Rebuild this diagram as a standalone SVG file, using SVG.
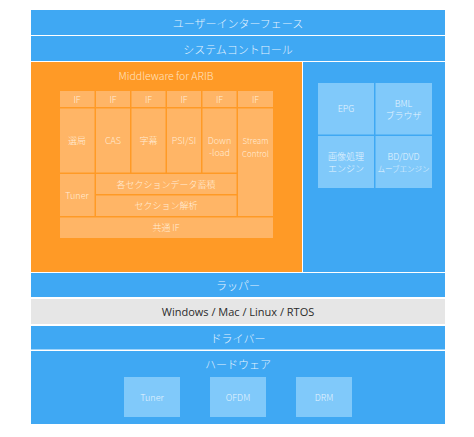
<svg xmlns="http://www.w3.org/2000/svg" width="474" height="437" viewBox="0 0 474 437">
<style>
.bar{fill:#3FA8F3}
.bt{font-family:"Noto Sans CJK JP","Noto Sans",sans-serif;font-weight:300;font-size:11px;fill:#E3F2FE;text-anchor:middle;dominant-baseline:central}
.or{fill:#FF9A26}
.cell{fill:#FFB566}
.ct{font-family:"Noto Sans CJK JP","Noto Sans",sans-serif;font-weight:300;font-size:9px;fill:#FFECD6;text-anchor:middle;dominant-baseline:central}
.lb{fill:#80C9FA}
.lt{font-family:"Noto Sans CJK JP","Noto Sans",sans-serif;font-weight:300;font-size:9px;fill:#E6F4FE;text-anchor:middle;dominant-baseline:central}
</style>
<rect width="474" height="437" fill="#FFFFFF"/>
<g id="ui"><rect class="bar" x="31" y="10" width="414" height="25"/><text class="bt" x="238" y="22.5">ユーザーインターフェース</text></g>
<g id="syscontrol"><rect class="bar" x="31" y="36" width="414" height="25"/><text class="bt" x="238" y="48.5">システムコントロール</text></g>
<g id="middleware">
<rect class="or" x="31" y="62" width="271" height="210"/>
<text class="bt" x="166" y="75" style="font-size:10.5px;fill:#FFE3C2">Middleware for ARIB</text>
<g id="ifrow">
<rect class="cell" x="60" y="91" width="34.5" height="16"/><text class="ct" x="77" y="99">IF</text>
<rect class="cell" x="96" y="91" width="34" height="16"/><text class="ct" x="113" y="99">IF</text>
<rect class="cell" x="131.5" y="91" width="34" height="16"/><text class="ct" x="148.5" y="99">IF</text>
<rect class="cell" x="167" y="91" width="34" height="16"/><text class="ct" x="184" y="99">IF</text>
<rect class="cell" x="202.5" y="91" width="34" height="16"/><text class="ct" x="219.5" y="99">IF</text>
<rect class="cell" x="238" y="91" width="35" height="16"/><text class="ct" x="255.5" y="99">IF</text>
</g>
<g id="modules">
<rect class="cell" x="60" y="108.5" width="34.5" height="64"/><text class="ct" x="77" y="140">選局</text>
<rect class="cell" x="96" y="108.5" width="34" height="64"/><text class="ct" x="113" y="140">CAS</text>
<rect class="cell" x="131.5" y="108.5" width="34" height="64"/><text class="ct" x="148.5" y="140">字幕</text>
<rect class="cell" x="167" y="108.5" width="34" height="64"/><text class="ct" x="184" y="140">PSI/SI</text>
<rect class="cell" x="202.5" y="108.5" width="34" height="64"/><text class="ct" x="219.5" y="140">Down</text><text class="ct" x="219.5" y="152">-load</text>
<rect class="cell" x="238" y="108.5" width="35" height="107.5"/><text class="ct" x="255.5" y="140" style="font-size:8px">Stream</text><text class="ct" x="255.5" y="153" style="font-size:8px">Control</text>
<rect class="cell" x="60" y="174" width="34.5" height="42"/><text class="ct" x="77" y="195">Tuner</text>
<rect class="cell" x="96" y="174" width="140.5" height="20"/><text class="ct" x="166" y="184">各セクションデータ蓄積</text>
<rect class="cell" x="96" y="195.5" width="140.5" height="20.5"/><text class="ct" x="166" y="205.5">セクション解析</text>
<rect class="cell" x="60" y="217.5" width="213" height="20.5"/><text class="ct" x="166" y="227.5">共通 IF</text>
</g>
</g>
<g id="apps">
<rect class="bar" x="303" y="62" width="142" height="210"/>
<rect class="lb" x="318" y="83" width="56" height="51.5"/><text class="lt" x="346" y="108.5">EPG</text>
<rect class="lb" x="375.5" y="83" width="56.5" height="51.5"/><text class="lt" x="403.5" y="103.5">BML</text><text class="lt" x="403.5" y="115">ブラウザ</text>
<rect class="lb" x="318" y="136" width="56" height="52"/><text class="lt" x="346" y="156">画像処理</text><text class="lt" x="346" y="168">エンジン</text>
<rect class="lb" x="375.5" y="136" width="56.5" height="52"/><text class="lt" x="403.5" y="156">BD/DVD</text><text class="lt" x="403.5" y="168" style="font-size:7.5px">ムーブエンジン</text>
</g>
<g id="wrapper"><rect class="bar" x="31" y="273" width="414" height="24"/><text class="bt" x="238" y="285">ラッパー</text></g>
<g id="os"><rect x="31" y="299" width="414" height="25" fill="#E6E6E6"/><text x="238" y="311.5" style="font-family:'Open Sans','Noto Sans',sans-serif;font-size:11px;fill:#2B2B2B;text-anchor:middle;dominant-baseline:central">Windows / Mac / Linux / RTOS</text></g>
<g id="driver"><rect class="bar" x="31" y="326" width="414" height="23.5"/><text class="bt" x="238" y="337.5">ドライバー</text></g>
<g id="hardware">
<rect class="bar" x="31" y="351" width="414" height="73"/>
<text class="bt" x="238" y="364">ハードウェア</text>
<rect class="lb" x="124" y="377" width="56" height="40"/><text class="lt" x="152" y="397">Tuner</text>
<rect class="lb" x="210" y="377" width="56" height="40"/><text class="lt" x="238" y="397">OFDM</text>
<rect class="lb" x="296" y="377" width="56" height="40"/><text class="lt" x="324" y="397">DRM</text>
</g>
</svg>
